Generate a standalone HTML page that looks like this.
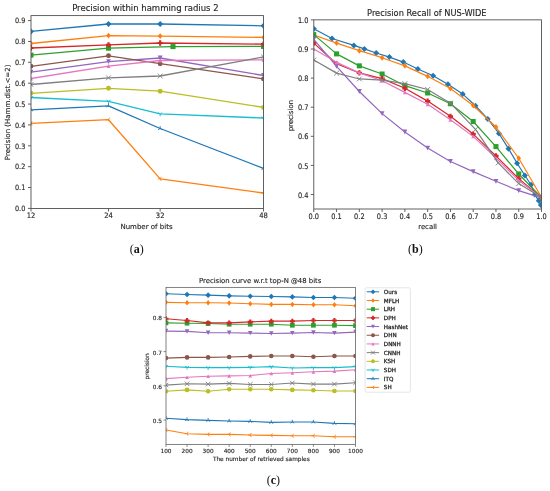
<!DOCTYPE html>
<html><head><meta charset="utf-8"><title>Precision figures</title>
<style>html,body{margin:0;padding:0;background:#fff;width:550px;height:491px;overflow:hidden}svg{display:block;filter:blur(0.3px)}</style>
</head><body>
<svg width="550" height="491" viewBox="0 0 550 491">
<defs><clipPath id="ca"><rect x="31" y="15.6" width="232.5" height="192.9"/></clipPath><clipPath id="cb"><rect x="313.8" y="19.85" width="227.7" height="189.15"/></clipPath><clipPath id="cc"><rect x="166" y="287.4" width="189.5" height="157.0"/></clipPath></defs>
<rect width="550" height="491" fill="#fff"/>
<g clip-path="url(#ca)">
<path d="M31 31.4L108.5 24L160.17 24L263.5 25.8" stroke="#1f77b4" stroke-width="1.3" fill="none" stroke-linejoin="round"/>
<polygon points="31,28.4 34,31.4 31,34.4 28,31.4" fill="#1f77b4"/>
<polygon points="108.5,21 111.5,24 108.5,27 105.5,24" fill="#1f77b4"/>
<polygon points="160.17,21 163.17,24 160.17,27 157.17,24" fill="#1f77b4"/>
<polygon points="263.5,22.8 266.5,25.8 263.5,28.8 260.5,25.8" fill="#1f77b4"/>
</g>
<g clip-path="url(#ca)">
<path d="M31 43.5L108.5 35.6L160.17 36.1L263.5 37.4" stroke="#ff7f0e" stroke-width="1.3" fill="none" stroke-linejoin="round"/>
<polygon points="31,40.56 33.28,43.5 31,46.44 28.72,43.5" fill="#ff7f0e"/>
<polygon points="108.5,32.66 110.78,35.6 108.5,38.54 106.22,35.6" fill="#ff7f0e"/>
<polygon points="160.17,33.16 162.45,36.1 160.17,39.04 157.89,36.1" fill="#ff7f0e"/>
<polygon points="263.5,34.46 265.78,37.4 263.5,40.34 261.22,37.4" fill="#ff7f0e"/>
</g>
<g clip-path="url(#ca)">
<path d="M31 55.1L108.5 48.2L173 46.6L263.5 46.4" stroke="#2ca02c" stroke-width="1.3" fill="none" stroke-linejoin="round"/>
<rect x="28.48" y="52.58" width="5.04" height="5.04" fill="#2ca02c"/>
<rect x="105.98" y="45.68" width="5.04" height="5.04" fill="#2ca02c"/>
<rect x="170.48" y="44.08" width="5.04" height="5.04" fill="#2ca02c"/>
<rect x="260.98" y="43.88" width="5.04" height="5.04" fill="#2ca02c"/>
</g>
<g clip-path="url(#ca)">
<path d="M31 48L108.5 44.8L160.17 43L263.5 44.1" stroke="#d62728" stroke-width="1.3" fill="none" stroke-linejoin="round"/>
<polygon points="29.89,45.36 32.11,45.36 32.11,46.89 33.64,46.89 33.64,49.11 32.11,49.11 32.11,50.64 29.89,50.64 29.89,49.11 28.36,49.11 28.36,46.89 29.89,46.89" fill="#d62728"/>
<polygon points="107.39,42.16 109.61,42.16 109.61,43.69 111.14,43.69 111.14,45.91 109.61,45.91 109.61,47.44 107.39,47.44 107.39,45.91 105.86,45.91 105.86,43.69 107.39,43.69" fill="#d62728"/>
<polygon points="159.06,40.36 161.28,40.36 161.28,41.89 162.81,41.89 162.81,44.11 161.28,44.11 161.28,45.64 159.06,45.64 159.06,44.11 157.53,44.11 157.53,41.89 159.06,41.89" fill="#d62728"/>
<polygon points="262.39,41.46 264.61,41.46 264.61,42.99 266.14,42.99 266.14,45.21 264.61,45.21 264.61,46.74 262.39,46.74 262.39,45.21 260.86,45.21 260.86,42.99 262.39,42.99" fill="#d62728"/>
</g>
<g clip-path="url(#ca)">
<path d="M31 72.2L108.5 61.6L160.17 58L263.5 75.5" stroke="#9467bd" stroke-width="1.3" fill="none" stroke-linejoin="round"/>
<polygon points="28.6,69.8 33.4,69.8 31,74.6" fill="#9467bd"/>
<polygon points="106.1,59.2 110.9,59.2 108.5,64" fill="#9467bd"/>
<polygon points="157.77,55.6 162.57,55.6 160.17,60.4" fill="#9467bd"/>
<polygon points="261.1,73.1 265.9,73.1 263.5,77.9" fill="#9467bd"/>
</g>
<g clip-path="url(#ca)">
<path d="M31 66.3L108.5 55.8L160.17 63.7L263.5 78.9" stroke="#8c564b" stroke-width="1.3" fill="none" stroke-linejoin="round"/>
<circle cx="31" cy="66.3" r="2.46" fill="#8c564b"/>
<circle cx="108.5" cy="55.8" r="2.46" fill="#8c564b"/>
<circle cx="160.17" cy="63.7" r="2.46" fill="#8c564b"/>
<circle cx="263.5" cy="78.9" r="2.46" fill="#8c564b"/>
</g>
<g clip-path="url(#ca)">
<path d="M31 78.5L108.5 66.1L160.17 60.5L263.5 59.8" stroke="#e377c2" stroke-width="1.3" fill="none" stroke-linejoin="round"/>
<polygon points="29.02,80.48 32.98,80.48 31,76.52" fill="#e377c2"/>
<polygon points="106.52,68.08 110.48,68.08 108.5,64.12" fill="#e377c2"/>
<polygon points="158.19,62.48 162.15,62.48 160.17,58.52" fill="#e377c2"/>
<polygon points="261.52,61.78 265.48,61.78 263.5,57.82" fill="#e377c2"/>
</g>
<g clip-path="url(#ca)">
<path d="M31 84.5L108.5 77.8L160.17 76L263.5 56.9" stroke="#7f7f7f" stroke-width="1.3" fill="none" stroke-linejoin="round"/>
<path d="M28.6 82.1L33.4 86.9M28.6 86.9L33.4 82.1" stroke="#7f7f7f" stroke-width="0.9" fill="none"/>
<path d="M106.1 75.4L110.9 80.2M106.1 80.2L110.9 75.4" stroke="#7f7f7f" stroke-width="0.9" fill="none"/>
<path d="M157.77 73.6L162.57 78.4M157.77 78.4L162.57 73.6" stroke="#7f7f7f" stroke-width="0.9" fill="none"/>
<path d="M261.1 54.5L265.9 59.3M261.1 59.3L265.9 54.5" stroke="#7f7f7f" stroke-width="0.9" fill="none"/>
</g>
<g clip-path="url(#ca)">
<path d="M31 93.3L108.5 88.3L160.17 91.2L263.5 107.4" stroke="#bcbd22" stroke-width="1.3" fill="none" stroke-linejoin="round"/>
<circle cx="31" cy="93.3" r="2.46" fill="#bcbd22"/>
<circle cx="108.5" cy="88.3" r="2.46" fill="#bcbd22"/>
<circle cx="160.17" cy="91.2" r="2.46" fill="#bcbd22"/>
<circle cx="263.5" cy="107.4" r="2.46" fill="#bcbd22"/>
</g>
<g clip-path="url(#ca)">
<path d="M31 97.5L108.5 101.3L160.17 113.9L263.5 118" stroke="#17becf" stroke-width="1.3" fill="none" stroke-linejoin="round"/>
<path d="M31 97.5L31 99.9M31 97.5L28.92 96.3M31 97.5L33.08 96.3" stroke="#17becf" stroke-width="0.9" fill="none"/>
<path d="M108.5 101.3L108.5 103.7M108.5 101.3L106.42 100.1M108.5 101.3L110.58 100.1" stroke="#17becf" stroke-width="0.9" fill="none"/>
<path d="M160.17 113.9L160.17 116.3M160.17 113.9L158.09 112.7M160.17 113.9L162.25 112.7" stroke="#17becf" stroke-width="0.9" fill="none"/>
<path d="M263.5 118L263.5 120.4M263.5 118L261.42 116.8M263.5 118L265.58 116.8" stroke="#17becf" stroke-width="0.9" fill="none"/>
</g>
<g clip-path="url(#ca)">
<path d="M31 109.8L108.5 105.8L160.17 128.5L263.5 168.4" stroke="#1f77b4" stroke-width="1.3" fill="none" stroke-linejoin="round"/>
<path d="M31 109.8L31 107.4M31 109.8L33.08 111M31 109.8L28.92 111" stroke="#1f77b4" stroke-width="0.9" fill="none"/>
<path d="M108.5 105.8L108.5 103.4M108.5 105.8L110.58 107M108.5 105.8L106.42 107" stroke="#1f77b4" stroke-width="0.9" fill="none"/>
<path d="M160.17 128.5L160.17 126.1M160.17 128.5L162.25 129.7M160.17 128.5L158.09 129.7" stroke="#1f77b4" stroke-width="0.9" fill="none"/>
<path d="M263.5 168.4L263.5 166M263.5 168.4L265.58 169.6M263.5 168.4L261.42 169.6" stroke="#1f77b4" stroke-width="0.9" fill="none"/>
</g>
<g clip-path="url(#ca)">
<path d="M31 123.3L108.5 119.7L160.17 178.9L263.5 193" stroke="#ff7f0e" stroke-width="1.3" fill="none" stroke-linejoin="round"/>
<path d="M31 123.3L28.6 123.3M31 123.3L32.2 121.22M31 123.3L32.2 125.38" stroke="#ff7f0e" stroke-width="0.9" fill="none"/>
<path d="M108.5 119.7L106.1 119.7M108.5 119.7L109.7 117.62M108.5 119.7L109.7 121.78" stroke="#ff7f0e" stroke-width="0.9" fill="none"/>
<path d="M160.17 178.9L157.77 178.9M160.17 178.9L161.37 176.82M160.17 178.9L161.37 180.98" stroke="#ff7f0e" stroke-width="0.9" fill="none"/>
<path d="M263.5 193L261.1 193M263.5 193L264.7 190.92M263.5 193L264.7 195.08" stroke="#ff7f0e" stroke-width="0.9" fill="none"/>
</g>
<rect x="31" y="15.6" width="232.5" height="192.9" fill="none" stroke="#505050" stroke-width="0.9"/>
<line x1="28" y1="208.4" x2="31" y2="208.4" stroke="#505050" stroke-width="0.9"/>
<text x="0" y="0" font-size="7.4" text-anchor="end" font-family="'DejaVu Sans', 'Liberation Sans', sans-serif" fill="#262626" stroke="#262626" stroke-width="0.14" transform="translate(25.3 211.15) scale(0.88 1)">0.0</text>
<line x1="28" y1="187.53" x2="31" y2="187.53" stroke="#505050" stroke-width="0.9"/>
<text x="0" y="0" font-size="7.4" text-anchor="end" font-family="'DejaVu Sans', 'Liberation Sans', sans-serif" fill="#262626" stroke="#262626" stroke-width="0.14" transform="translate(25.3 190.28) scale(0.88 1)">0.1</text>
<line x1="28" y1="166.66" x2="31" y2="166.66" stroke="#505050" stroke-width="0.9"/>
<text x="0" y="0" font-size="7.4" text-anchor="end" font-family="'DejaVu Sans', 'Liberation Sans', sans-serif" fill="#262626" stroke="#262626" stroke-width="0.14" transform="translate(25.3 169.41) scale(0.88 1)">0.2</text>
<line x1="28" y1="145.79" x2="31" y2="145.79" stroke="#505050" stroke-width="0.9"/>
<text x="0" y="0" font-size="7.4" text-anchor="end" font-family="'DejaVu Sans', 'Liberation Sans', sans-serif" fill="#262626" stroke="#262626" stroke-width="0.14" transform="translate(25.3 148.54) scale(0.88 1)">0.3</text>
<line x1="28" y1="124.92" x2="31" y2="124.92" stroke="#505050" stroke-width="0.9"/>
<text x="0" y="0" font-size="7.4" text-anchor="end" font-family="'DejaVu Sans', 'Liberation Sans', sans-serif" fill="#262626" stroke="#262626" stroke-width="0.14" transform="translate(25.3 127.67) scale(0.88 1)">0.4</text>
<line x1="28" y1="104.05" x2="31" y2="104.05" stroke="#505050" stroke-width="0.9"/>
<text x="0" y="0" font-size="7.4" text-anchor="end" font-family="'DejaVu Sans', 'Liberation Sans', sans-serif" fill="#262626" stroke="#262626" stroke-width="0.14" transform="translate(25.3 106.8) scale(0.88 1)">0.5</text>
<line x1="28" y1="83.18" x2="31" y2="83.18" stroke="#505050" stroke-width="0.9"/>
<text x="0" y="0" font-size="7.4" text-anchor="end" font-family="'DejaVu Sans', 'Liberation Sans', sans-serif" fill="#262626" stroke="#262626" stroke-width="0.14" transform="translate(25.3 85.93) scale(0.88 1)">0.6</text>
<line x1="28" y1="62.31" x2="31" y2="62.31" stroke="#505050" stroke-width="0.9"/>
<text x="0" y="0" font-size="7.4" text-anchor="end" font-family="'DejaVu Sans', 'Liberation Sans', sans-serif" fill="#262626" stroke="#262626" stroke-width="0.14" transform="translate(25.3 65.06) scale(0.88 1)">0.7</text>
<line x1="28" y1="41.44" x2="31" y2="41.44" stroke="#505050" stroke-width="0.9"/>
<text x="0" y="0" font-size="7.4" text-anchor="end" font-family="'DejaVu Sans', 'Liberation Sans', sans-serif" fill="#262626" stroke="#262626" stroke-width="0.14" transform="translate(25.3 44.19) scale(0.88 1)">0.8</text>
<line x1="28" y1="20.57" x2="31" y2="20.57" stroke="#505050" stroke-width="0.9"/>
<text x="0" y="0" font-size="7.4" text-anchor="end" font-family="'DejaVu Sans', 'Liberation Sans', sans-serif" fill="#262626" stroke="#262626" stroke-width="0.14" transform="translate(25.3 23.32) scale(0.88 1)">0.9</text>
<line x1="31" y1="208.5" x2="31" y2="211.5" stroke="#505050" stroke-width="0.9"/>
<text x="0" y="0" font-size="7.4" text-anchor="middle" font-family="'DejaVu Sans', 'Liberation Sans', sans-serif" fill="#262626" stroke="#262626" stroke-width="0.14" transform="translate(31 218.1) scale(0.92 1)">12</text>
<line x1="108.5" y1="208.5" x2="108.5" y2="211.5" stroke="#505050" stroke-width="0.9"/>
<text x="0" y="0" font-size="7.4" text-anchor="middle" font-family="'DejaVu Sans', 'Liberation Sans', sans-serif" fill="#262626" stroke="#262626" stroke-width="0.14" transform="translate(108.5 218.1) scale(0.92 1)">24</text>
<line x1="160.17" y1="208.5" x2="160.17" y2="211.5" stroke="#505050" stroke-width="0.9"/>
<text x="0" y="0" font-size="7.4" text-anchor="middle" font-family="'DejaVu Sans', 'Liberation Sans', sans-serif" fill="#262626" stroke="#262626" stroke-width="0.14" transform="translate(160.17 218.1) scale(0.92 1)">32</text>
<line x1="263.5" y1="208.5" x2="263.5" y2="211.5" stroke="#505050" stroke-width="0.9"/>
<text x="0" y="0" font-size="7.4" text-anchor="middle" font-family="'DejaVu Sans', 'Liberation Sans', sans-serif" fill="#262626" stroke="#262626" stroke-width="0.14" transform="translate(263.5 218.1) scale(0.92 1)">48</text>
<text x="146.5" y="228.8" font-size="7" text-anchor="middle" font-family="'DejaVu Sans', 'Liberation Sans', sans-serif" fill="#262626" stroke="#262626" stroke-width="0.14">Number of bits</text>
<text x="10" y="112.4" font-size="7" text-anchor="middle" font-family="'DejaVu Sans', 'Liberation Sans', sans-serif" fill="#262626" stroke="#262626" stroke-width="0.14" transform="rotate(-90 10 112.4)">Precision (Hamm.dist.&lt;=2)</text>
<text x="145.4" y="10.9" font-size="8.5" text-anchor="middle" font-family="'DejaVu Sans', 'Liberation Sans', sans-serif" fill="#262626" stroke="#262626" stroke-width="0.14">Precision within hamming radius 2</text>
<g clip-path="url(#cb)">
<path d="M313.8 28.83L332.02 38.45L353.88 45.44L364.35 48.94L376.19 53.02L389.4 57.1L403.29 62.06L417.86 69.06L433.11 75.76L447.92 84.21L462.72 94.12L475.47 105.78L487.76 118.9L498.92 133.48L508.48 148.63L517.14 163.21L524.88 175.45L531.03 184.78L534.67 194.4L538.77 200.81L540.82 204.89" stroke="#1f77b4" stroke-width="1.2" fill="none" stroke-linejoin="round"/>
<polygon points="313.8,25.83 316.8,28.83 313.8,31.83 310.8,28.83" fill="#1f77b4"/>
<polygon points="332.02,35.45 335.02,38.45 332.02,41.45 329.02,38.45" fill="#1f77b4"/>
<polygon points="353.88,42.44 356.88,45.44 353.88,48.44 350.88,45.44" fill="#1f77b4"/>
<polygon points="364.35,45.94 367.35,48.94 364.35,51.94 361.35,48.94" fill="#1f77b4"/>
<polygon points="376.19,50.02 379.19,53.02 376.19,56.02 373.19,53.02" fill="#1f77b4"/>
<polygon points="389.4,54.1 392.4,57.1 389.4,60.1 386.4,57.1" fill="#1f77b4"/>
<polygon points="403.29,59.06 406.29,62.06 403.29,65.06 400.29,62.06" fill="#1f77b4"/>
<polygon points="417.86,66.06 420.86,69.06 417.86,72.06 414.86,69.06" fill="#1f77b4"/>
<polygon points="433.11,72.76 436.11,75.76 433.11,78.76 430.11,75.76" fill="#1f77b4"/>
<polygon points="447.92,81.21 450.92,84.21 447.92,87.21 444.92,84.21" fill="#1f77b4"/>
<polygon points="462.72,91.12 465.72,94.12 462.72,97.12 459.72,94.12" fill="#1f77b4"/>
<polygon points="475.47,102.78 478.47,105.78 475.47,108.78 472.47,105.78" fill="#1f77b4"/>
<polygon points="487.76,115.9 490.76,118.9 487.76,121.9 484.76,118.9" fill="#1f77b4"/>
<polygon points="498.92,130.48 501.92,133.48 498.92,136.48 495.92,133.48" fill="#1f77b4"/>
<polygon points="508.48,145.63 511.48,148.63 508.48,151.63 505.48,148.63" fill="#1f77b4"/>
<polygon points="517.14,160.21 520.14,163.21 517.14,166.21 514.14,163.21" fill="#1f77b4"/>
<polygon points="524.88,172.45 527.88,175.45 524.88,178.45 521.88,175.45" fill="#1f77b4"/>
<polygon points="531.03,181.78 534.03,184.78 531.03,187.78 528.03,184.78" fill="#1f77b4"/>
<polygon points="534.67,191.4 537.67,194.4 534.67,197.4 531.67,194.4" fill="#1f77b4"/>
<polygon points="538.77,197.81 541.77,200.81 538.77,203.81 535.77,200.81" fill="#1f77b4"/>
<polygon points="540.82,201.89 543.82,204.89 540.82,207.89 537.82,204.89" fill="#1f77b4"/>
</g>
<g clip-path="url(#cb)">
<path d="M313.8 34.95L336.57 43.11L359.34 50.69L382.11 57.69L404.88 65.85L427.65 76.34L450.42 88.59L473.19 105.49L495.96 127.06L518.73 158.25L541.5 197.31" stroke="#ff7f0e" stroke-width="1.2" fill="none" stroke-linejoin="round"/>
<polygon points="313.8,32.01 316.08,34.95 313.8,37.89 311.52,34.95" fill="#ff7f0e"/>
<polygon points="336.57,40.17 338.85,43.11 336.57,46.05 334.29,43.11" fill="#ff7f0e"/>
<polygon points="359.34,47.75 361.62,50.69 359.34,53.63 357.06,50.69" fill="#ff7f0e"/>
<polygon points="382.11,54.75 384.39,57.69 382.11,60.63 379.83,57.69" fill="#ff7f0e"/>
<polygon points="404.88,62.91 407.16,65.85 404.88,68.79 402.6,65.85" fill="#ff7f0e"/>
<polygon points="427.65,73.4 429.93,76.34 427.65,79.28 425.37,76.34" fill="#ff7f0e"/>
<polygon points="450.42,85.65 452.7,88.59 450.42,91.53 448.14,88.59" fill="#ff7f0e"/>
<polygon points="473.19,102.55 475.47,105.49 473.19,108.43 470.91,105.49" fill="#ff7f0e"/>
<polygon points="495.96,124.12 498.24,127.06 495.96,130 493.68,127.06" fill="#ff7f0e"/>
<polygon points="518.73,155.31 521.01,158.25 518.73,161.19 516.45,158.25" fill="#ff7f0e"/>
<polygon points="541.5,194.38 543.78,197.31 541.5,200.25 539.22,197.31" fill="#ff7f0e"/>
</g>
<g clip-path="url(#cb)">
<path d="M313.8 34.66L336.57 53.9L359.34 65.85L382.11 74.01L404.88 85.67L427.65 92.96L450.42 103.74L473.19 121.52L495.96 146.59L518.73 174L541.5 197.31" stroke="#2ca02c" stroke-width="1.2" fill="none" stroke-linejoin="round"/>
<rect x="311.28" y="32.14" width="5.04" height="5.04" fill="#2ca02c"/>
<rect x="334.05" y="51.38" width="5.04" height="5.04" fill="#2ca02c"/>
<rect x="356.82" y="63.33" width="5.04" height="5.04" fill="#2ca02c"/>
<rect x="379.59" y="71.49" width="5.04" height="5.04" fill="#2ca02c"/>
<rect x="402.36" y="83.15" width="5.04" height="5.04" fill="#2ca02c"/>
<rect x="425.13" y="90.44" width="5.04" height="5.04" fill="#2ca02c"/>
<rect x="447.9" y="101.22" width="5.04" height="5.04" fill="#2ca02c"/>
<rect x="470.67" y="119" width="5.04" height="5.04" fill="#2ca02c"/>
<rect x="493.44" y="144.07" width="5.04" height="5.04" fill="#2ca02c"/>
<rect x="516.21" y="171.47" width="5.04" height="5.04" fill="#2ca02c"/>
<rect x="538.98" y="194.79" width="5.04" height="5.04" fill="#2ca02c"/>
</g>
<g clip-path="url(#cb)">
<path d="M313.8 43.11L336.57 63.81L359.34 72.84L382.11 78.67L404.88 88.29L427.65 101.12L450.42 116.28L473.19 134.06L495.96 155.92L518.73 178.66L541.5 197.61" stroke="#d62728" stroke-width="1.2" fill="none" stroke-linejoin="round"/>
<polygon points="312.69,40.47 314.91,40.47 314.91,42 316.44,42 316.44,44.22 314.91,44.22 314.91,45.75 312.69,45.75 312.69,44.22 311.16,44.22 311.16,42 312.69,42" fill="#d62728"/>
<polygon points="335.46,61.17 337.68,61.17 337.68,62.7 339.21,62.7 339.21,64.92 337.68,64.92 337.68,66.45 335.46,66.45 335.46,64.92 333.93,64.92 333.93,62.7 335.46,62.7" fill="#d62728"/>
<polygon points="358.23,70.2 360.45,70.2 360.45,71.74 361.98,71.74 361.98,73.95 360.45,73.95 360.45,75.48 358.23,75.48 358.23,73.95 356.7,73.95 356.7,71.74 358.23,71.74" fill="#d62728"/>
<polygon points="381,76.03 383.22,76.03 383.22,77.57 384.75,77.57 384.75,79.78 383.22,79.78 383.22,81.31 381,81.31 381,79.78 379.47,79.78 379.47,77.57 381,77.57" fill="#d62728"/>
<polygon points="403.77,85.65 405.99,85.65 405.99,87.19 407.52,87.19 407.52,89.4 405.99,89.4 405.99,90.93 403.77,90.93 403.77,89.4 402.24,89.4 402.24,87.19 403.77,87.19" fill="#d62728"/>
<polygon points="426.54,98.48 428.76,98.48 428.76,100.01 430.29,100.01 430.29,102.23 428.76,102.23 428.76,103.76 426.54,103.76 426.54,102.23 425.01,102.23 425.01,100.01 426.54,100.01" fill="#d62728"/>
<polygon points="449.31,113.64 451.53,113.64 451.53,115.17 453.06,115.17 453.06,117.39 451.53,117.39 451.53,118.92 449.31,118.92 449.31,117.39 447.78,117.39 447.78,115.17 449.31,115.17" fill="#d62728"/>
<polygon points="472.08,131.42 474.3,131.42 474.3,132.95 475.83,132.95 475.83,135.17 474.3,135.17 474.3,136.7 472.08,136.7 472.08,135.17 470.55,135.17 470.55,132.95 472.08,132.95" fill="#d62728"/>
<polygon points="494.85,153.28 497.07,153.28 497.07,154.81 498.6,154.81 498.6,157.03 497.07,157.03 497.07,158.56 494.85,158.56 494.85,157.03 493.32,157.03 493.32,154.81 494.85,154.81" fill="#d62728"/>
<polygon points="517.62,176.02 519.84,176.02 519.84,177.55 521.37,177.55 521.37,179.77 519.84,179.77 519.84,181.3 517.62,181.3 517.62,179.77 516.09,179.77 516.09,177.55 517.62,177.55" fill="#d62728"/>
<polygon points="540.39,194.97 542.61,194.97 542.61,196.5 544.14,196.5 544.14,198.72 542.61,198.72 542.61,200.25 540.39,200.25 540.39,198.72 538.86,198.72 538.86,196.5 540.39,196.5" fill="#d62728"/>
</g>
<g clip-path="url(#cb)">
<path d="M313.8 39.32L336.57 66.43L359.34 91.5L382.11 113.65L404.88 132.02L427.65 148.05L450.42 161.46L473.19 171.66L495.96 181.28L518.73 190.61L541.5 197.9" stroke="#9467bd" stroke-width="1.2" fill="none" stroke-linejoin="round"/>
<polygon points="311.4,36.92 316.2,36.92 313.8,41.72" fill="#9467bd"/>
<polygon points="334.17,64.03 338.97,64.03 336.57,68.83" fill="#9467bd"/>
<polygon points="356.94,89.1 361.74,89.1 359.34,93.9" fill="#9467bd"/>
<polygon points="379.71,111.25 384.51,111.25 382.11,116.05" fill="#9467bd"/>
<polygon points="402.48,129.62 407.28,129.62 404.88,134.42" fill="#9467bd"/>
<polygon points="425.25,145.65 430.05,145.65 427.65,150.45" fill="#9467bd"/>
<polygon points="448.02,159.06 452.82,159.06 450.42,163.86" fill="#9467bd"/>
<polygon points="470.79,169.26 475.59,169.26 473.19,174.06" fill="#9467bd"/>
<polygon points="493.56,178.88 498.36,178.88 495.96,183.68" fill="#9467bd"/>
<polygon points="516.33,188.21 521.13,188.21 518.73,193.01" fill="#9467bd"/>
<polygon points="539.1,195.5 543.9,195.5 541.5,200.3" fill="#9467bd"/>
</g>
<g clip-path="url(#cb)">
<path d="M313.8 48.94L336.57 62.35L359.34 72.84L382.11 80.71L404.88 92.38L427.65 104.33L450.42 119.78L473.19 136.39L495.96 157.96L518.73 180.41L541.5 197.61" stroke="#e377c2" stroke-width="1.2" fill="none" stroke-linejoin="round"/>
<polygon points="311.82,50.92 315.78,50.92 313.8,46.96" fill="#e377c2"/>
<polygon points="334.59,64.33 338.55,64.33 336.57,60.37" fill="#e377c2"/>
<polygon points="357.36,74.82 361.32,74.82 359.34,70.86" fill="#e377c2"/>
<polygon points="380.13,82.69 384.09,82.69 382.11,78.73" fill="#e377c2"/>
<polygon points="402.9,94.36 406.86,94.36 404.88,90.39" fill="#e377c2"/>
<polygon points="425.67,106.31 429.63,106.31 427.65,102.35" fill="#e377c2"/>
<polygon points="448.44,121.76 452.4,121.76 450.42,117.8" fill="#e377c2"/>
<polygon points="471.21,138.37 475.17,138.37 473.19,134.41" fill="#e377c2"/>
<polygon points="493.98,159.94 497.94,159.94 495.96,155.98" fill="#e377c2"/>
<polygon points="516.75,182.39 520.71,182.39 518.73,178.43" fill="#e377c2"/>
<polygon points="539.52,199.59 543.48,199.59 541.5,195.63" fill="#e377c2"/>
</g>
<g clip-path="url(#cb)">
<path d="M313.8 60.02L336.57 73.14L359.34 78.97L382.11 80.13L404.88 83.63L427.65 89.46L450.42 103.16L475.47 129.4L498.24 162.92L518.73 183.61L541.5 197.61" stroke="#7f7f7f" stroke-width="1.2" fill="none" stroke-linejoin="round"/>
<path d="M311.4 57.62L316.2 62.42M311.4 62.42L316.2 57.62" stroke="#7f7f7f" stroke-width="0.9" fill="none"/>
<path d="M334.17 70.74L338.97 75.54M334.17 75.54L338.97 70.74" stroke="#7f7f7f" stroke-width="0.9" fill="none"/>
<path d="M356.94 76.57L361.74 81.37M356.94 81.37L361.74 76.57" stroke="#7f7f7f" stroke-width="0.9" fill="none"/>
<path d="M379.71 77.73L384.51 82.53M379.71 82.53L384.51 77.73" stroke="#7f7f7f" stroke-width="0.9" fill="none"/>
<path d="M402.48 81.23L407.28 86.03M402.48 86.03L407.28 81.23" stroke="#7f7f7f" stroke-width="0.9" fill="none"/>
<path d="M425.25 87.06L430.05 91.86M425.25 91.86L430.05 87.06" stroke="#7f7f7f" stroke-width="0.9" fill="none"/>
<path d="M448.02 100.76L452.82 105.56M448.02 105.56L452.82 100.76" stroke="#7f7f7f" stroke-width="0.9" fill="none"/>
<path d="M473.07 127L477.87 131.8M473.07 131.8L477.87 127" stroke="#7f7f7f" stroke-width="0.9" fill="none"/>
<path d="M495.84 160.52L500.64 165.32M495.84 165.32L500.64 160.52" stroke="#7f7f7f" stroke-width="0.9" fill="none"/>
<path d="M516.33 181.21L521.13 186.01M516.33 186.01L521.13 181.21" stroke="#7f7f7f" stroke-width="0.9" fill="none"/>
<path d="M539.1 195.21L543.9 200.01M539.1 200.01L543.9 195.21" stroke="#7f7f7f" stroke-width="0.9" fill="none"/>
</g>
<rect x="313.8" y="19.85" width="227.7" height="189.15" fill="none" stroke="#505050" stroke-width="0.9"/>
<line x1="310.8" y1="194.5" x2="313.8" y2="194.5" stroke="#505050" stroke-width="0.9"/>
<text x="0" y="0" font-size="7.7" text-anchor="end" font-family="'DejaVu Sans', 'Liberation Sans', sans-serif" fill="#262626" stroke="#262626" stroke-width="0.14" transform="translate(308.4 197.6) scale(0.86 1)">0.4</text>
<line x1="310.8" y1="165.4" x2="313.8" y2="165.4" stroke="#505050" stroke-width="0.9"/>
<text x="0" y="0" font-size="7.7" text-anchor="end" font-family="'DejaVu Sans', 'Liberation Sans', sans-serif" fill="#262626" stroke="#262626" stroke-width="0.14" transform="translate(308.4 168.5) scale(0.86 1)">0.5</text>
<line x1="310.8" y1="136.3" x2="313.8" y2="136.3" stroke="#505050" stroke-width="0.9"/>
<text x="0" y="0" font-size="7.7" text-anchor="end" font-family="'DejaVu Sans', 'Liberation Sans', sans-serif" fill="#262626" stroke="#262626" stroke-width="0.14" transform="translate(308.4 139.4) scale(0.86 1)">0.6</text>
<line x1="310.8" y1="107.2" x2="313.8" y2="107.2" stroke="#505050" stroke-width="0.9"/>
<text x="0" y="0" font-size="7.7" text-anchor="end" font-family="'DejaVu Sans', 'Liberation Sans', sans-serif" fill="#262626" stroke="#262626" stroke-width="0.14" transform="translate(308.4 110.3) scale(0.86 1)">0.7</text>
<line x1="310.8" y1="78.1" x2="313.8" y2="78.1" stroke="#505050" stroke-width="0.9"/>
<text x="0" y="0" font-size="7.7" text-anchor="end" font-family="'DejaVu Sans', 'Liberation Sans', sans-serif" fill="#262626" stroke="#262626" stroke-width="0.14" transform="translate(308.4 81.2) scale(0.86 1)">0.8</text>
<line x1="310.8" y1="49" x2="313.8" y2="49" stroke="#505050" stroke-width="0.9"/>
<text x="0" y="0" font-size="7.7" text-anchor="end" font-family="'DejaVu Sans', 'Liberation Sans', sans-serif" fill="#262626" stroke="#262626" stroke-width="0.14" transform="translate(308.4 52.1) scale(0.86 1)">0.9</text>
<line x1="310.8" y1="19.9" x2="313.8" y2="19.9" stroke="#505050" stroke-width="0.9"/>
<text x="0" y="0" font-size="7.7" text-anchor="end" font-family="'DejaVu Sans', 'Liberation Sans', sans-serif" fill="#262626" stroke="#262626" stroke-width="0.14" transform="translate(308.4 23) scale(0.86 1)">1.0</text>
<line x1="313.8" y1="209" x2="313.8" y2="212" stroke="#505050" stroke-width="0.9"/>
<text x="0" y="0" font-size="7.7" text-anchor="middle" font-family="'DejaVu Sans', 'Liberation Sans', sans-serif" fill="#262626" stroke="#262626" stroke-width="0.14" transform="translate(313.8 219.4) scale(0.86 1)">0.0</text>
<line x1="336.57" y1="209" x2="336.57" y2="212" stroke="#505050" stroke-width="0.9"/>
<text x="0" y="0" font-size="7.7" text-anchor="middle" font-family="'DejaVu Sans', 'Liberation Sans', sans-serif" fill="#262626" stroke="#262626" stroke-width="0.14" transform="translate(336.57 219.4) scale(0.86 1)">0.1</text>
<line x1="359.34" y1="209" x2="359.34" y2="212" stroke="#505050" stroke-width="0.9"/>
<text x="0" y="0" font-size="7.7" text-anchor="middle" font-family="'DejaVu Sans', 'Liberation Sans', sans-serif" fill="#262626" stroke="#262626" stroke-width="0.14" transform="translate(359.34 219.4) scale(0.86 1)">0.2</text>
<line x1="382.11" y1="209" x2="382.11" y2="212" stroke="#505050" stroke-width="0.9"/>
<text x="0" y="0" font-size="7.7" text-anchor="middle" font-family="'DejaVu Sans', 'Liberation Sans', sans-serif" fill="#262626" stroke="#262626" stroke-width="0.14" transform="translate(382.11 219.4) scale(0.86 1)">0.3</text>
<line x1="404.88" y1="209" x2="404.88" y2="212" stroke="#505050" stroke-width="0.9"/>
<text x="0" y="0" font-size="7.7" text-anchor="middle" font-family="'DejaVu Sans', 'Liberation Sans', sans-serif" fill="#262626" stroke="#262626" stroke-width="0.14" transform="translate(404.88 219.4) scale(0.86 1)">0.4</text>
<line x1="427.65" y1="209" x2="427.65" y2="212" stroke="#505050" stroke-width="0.9"/>
<text x="0" y="0" font-size="7.7" text-anchor="middle" font-family="'DejaVu Sans', 'Liberation Sans', sans-serif" fill="#262626" stroke="#262626" stroke-width="0.14" transform="translate(427.65 219.4) scale(0.86 1)">0.5</text>
<line x1="450.42" y1="209" x2="450.42" y2="212" stroke="#505050" stroke-width="0.9"/>
<text x="0" y="0" font-size="7.7" text-anchor="middle" font-family="'DejaVu Sans', 'Liberation Sans', sans-serif" fill="#262626" stroke="#262626" stroke-width="0.14" transform="translate(450.42 219.4) scale(0.86 1)">0.6</text>
<line x1="473.19" y1="209" x2="473.19" y2="212" stroke="#505050" stroke-width="0.9"/>
<text x="0" y="0" font-size="7.7" text-anchor="middle" font-family="'DejaVu Sans', 'Liberation Sans', sans-serif" fill="#262626" stroke="#262626" stroke-width="0.14" transform="translate(473.19 219.4) scale(0.86 1)">0.7</text>
<line x1="495.96" y1="209" x2="495.96" y2="212" stroke="#505050" stroke-width="0.9"/>
<text x="0" y="0" font-size="7.7" text-anchor="middle" font-family="'DejaVu Sans', 'Liberation Sans', sans-serif" fill="#262626" stroke="#262626" stroke-width="0.14" transform="translate(495.96 219.4) scale(0.86 1)">0.8</text>
<line x1="518.73" y1="209" x2="518.73" y2="212" stroke="#505050" stroke-width="0.9"/>
<text x="0" y="0" font-size="7.7" text-anchor="middle" font-family="'DejaVu Sans', 'Liberation Sans', sans-serif" fill="#262626" stroke="#262626" stroke-width="0.14" transform="translate(518.73 219.4) scale(0.86 1)">0.9</text>
<line x1="541.5" y1="209" x2="541.5" y2="212" stroke="#505050" stroke-width="0.9"/>
<text x="0" y="0" font-size="7.7" text-anchor="middle" font-family="'DejaVu Sans', 'Liberation Sans', sans-serif" fill="#262626" stroke="#262626" stroke-width="0.14" transform="translate(541.5 219.4) scale(0.86 1)">1.0</text>
<text x="427.6" y="229" font-size="6.9" text-anchor="middle" font-family="'DejaVu Sans', 'Liberation Sans', sans-serif" fill="#262626" stroke="#262626" stroke-width="0.14">recall</text>
<text x="292.7" y="115.5" font-size="6.9" text-anchor="middle" font-family="'DejaVu Sans', 'Liberation Sans', sans-serif" fill="#262626" stroke="#262626" stroke-width="0.14" transform="rotate(-90 292.7 115.5)">precision</text>
<text x="426.8" y="15.9" font-size="8.25" text-anchor="middle" font-family="'DejaVu Sans', 'Liberation Sans', sans-serif" fill="#262626" stroke="#262626" stroke-width="0.14">Precision Recall of NUS-WIDE</text>
<g clip-path="url(#cc)">
<path d="M166 293.8L187.06 294.49L208.11 295.17L229.17 295.85L250.22 296.2L271.28 296.54L292.33 296.88L313.39 297.56L334.44 297.56L355.5 298.25" stroke="#1f77b4" stroke-width="1.1" fill="none" stroke-linejoin="round"/>
<polygon points="166,291 168.8,293.8 166,296.6 163.2,293.8" fill="#1f77b4"/>
<polygon points="187.06,291.69 189.86,294.49 187.06,297.29 184.26,294.49" fill="#1f77b4"/>
<polygon points="208.11,292.37 210.91,295.17 208.11,297.97 205.31,295.17" fill="#1f77b4"/>
<polygon points="229.17,293.05 231.97,295.85 229.17,298.65 226.37,295.85" fill="#1f77b4"/>
<polygon points="250.22,293.4 253.02,296.2 250.22,299 247.42,296.2" fill="#1f77b4"/>
<polygon points="271.28,293.74 274.08,296.54 271.28,299.34 268.48,296.54" fill="#1f77b4"/>
<polygon points="292.33,294.08 295.13,296.88 292.33,299.68 289.53,296.88" fill="#1f77b4"/>
<polygon points="313.39,294.76 316.19,297.56 313.39,300.36 310.59,297.56" fill="#1f77b4"/>
<polygon points="334.44,294.76 337.24,297.56 334.44,300.36 331.64,297.56" fill="#1f77b4"/>
<polygon points="355.5,295.45 358.3,298.25 355.5,301.05 352.7,298.25" fill="#1f77b4"/>
</g>
<g clip-path="url(#cc)">
<path d="M166 302.35L187.06 302.69L208.11 302.69L229.17 303.04L250.22 303.72L271.28 304.4L292.33 304.4L313.39 304.75L334.44 304.75L355.5 305.77" stroke="#ff7f0e" stroke-width="1.1" fill="none" stroke-linejoin="round"/>
<polygon points="166,299.61 168.13,302.35 166,305.1 163.87,302.35" fill="#ff7f0e"/>
<polygon points="187.06,299.95 189.18,302.69 187.06,305.44 184.93,302.69" fill="#ff7f0e"/>
<polygon points="208.11,299.95 210.24,302.69 208.11,305.44 205.98,302.69" fill="#ff7f0e"/>
<polygon points="229.17,300.29 231.29,303.04 229.17,305.78 227.04,303.04" fill="#ff7f0e"/>
<polygon points="250.22,300.98 252.35,303.72 250.22,306.46 248.09,303.72" fill="#ff7f0e"/>
<polygon points="271.28,301.66 273.41,304.4 271.28,307.15 269.15,304.4" fill="#ff7f0e"/>
<polygon points="292.33,301.66 294.46,304.4 292.33,307.15 290.21,304.4" fill="#ff7f0e"/>
<polygon points="313.39,302 315.52,304.75 313.39,307.49 311.26,304.75" fill="#ff7f0e"/>
<polygon points="334.44,302 336.57,304.75 334.44,307.49 332.32,304.75" fill="#ff7f0e"/>
<polygon points="355.5,303.03 357.63,305.77 355.5,308.52 353.37,305.77" fill="#ff7f0e"/>
</g>
<g clip-path="url(#cc)">
<path d="M166 322.87L187.06 323.21L208.11 323.56L229.17 324.24L250.22 324.24L271.28 324.24L292.33 325.27L313.39 325.27L334.44 325.27L355.5 325.61" stroke="#2ca02c" stroke-width="1.1" fill="none" stroke-linejoin="round"/>
<rect x="163.65" y="320.52" width="4.7" height="4.7" fill="#2ca02c"/>
<rect x="184.7" y="320.86" width="4.7" height="4.7" fill="#2ca02c"/>
<rect x="205.76" y="321.2" width="4.7" height="4.7" fill="#2ca02c"/>
<rect x="226.81" y="321.89" width="4.7" height="4.7" fill="#2ca02c"/>
<rect x="247.87" y="321.89" width="4.7" height="4.7" fill="#2ca02c"/>
<rect x="268.93" y="321.89" width="4.7" height="4.7" fill="#2ca02c"/>
<rect x="289.98" y="322.91" width="4.7" height="4.7" fill="#2ca02c"/>
<rect x="311.04" y="322.91" width="4.7" height="4.7" fill="#2ca02c"/>
<rect x="332.09" y="322.91" width="4.7" height="4.7" fill="#2ca02c"/>
<rect x="353.15" y="323.26" width="4.7" height="4.7" fill="#2ca02c"/>
</g>
<g clip-path="url(#cc)">
<path d="M166 318.77L187.06 320.48L208.11 322.87L229.17 322.87L250.22 321.85L271.28 321.16L292.33 321.16L313.39 320.48L334.44 320.48L355.5 320.48" stroke="#d62728" stroke-width="1.1" fill="none" stroke-linejoin="round"/>
<polygon points="164.97,316.3 167.03,316.3 167.03,317.73 168.46,317.73 168.46,319.8 167.03,319.8 167.03,321.23 164.97,321.23 164.97,319.8 163.54,319.8 163.54,317.73 164.97,317.73" fill="#d62728"/>
<polygon points="186.02,318.01 188.09,318.01 188.09,319.44 189.52,319.44 189.52,321.51 188.09,321.51 188.09,322.94 186.02,322.94 186.02,321.51 184.59,321.51 184.59,319.44 186.02,319.44" fill="#d62728"/>
<polygon points="207.08,320.41 209.15,320.41 209.15,321.84 210.58,321.84 210.58,323.91 209.15,323.91 209.15,325.34 207.08,325.34 207.08,323.91 205.65,323.91 205.65,321.84 207.08,321.84" fill="#d62728"/>
<polygon points="228.13,320.41 230.2,320.41 230.2,321.84 231.63,321.84 231.63,323.91 230.2,323.91 230.2,325.34 228.13,325.34 228.13,323.91 226.7,323.91 226.7,321.84 228.13,321.84" fill="#d62728"/>
<polygon points="249.19,319.38 251.26,319.38 251.26,320.81 252.69,320.81 252.69,322.88 251.26,322.88 251.26,324.31 249.19,324.31 249.19,322.88 247.76,322.88 247.76,320.81 249.19,320.81" fill="#d62728"/>
<polygon points="270.24,318.7 272.31,318.7 272.31,320.13 273.74,320.13 273.74,322.2 272.31,322.2 272.31,323.63 270.24,323.63 270.24,322.2 268.81,322.2 268.81,320.13 270.24,320.13" fill="#d62728"/>
<polygon points="291.3,318.7 293.37,318.7 293.37,320.13 294.8,320.13 294.8,322.2 293.37,322.2 293.37,323.63 291.3,323.63 291.3,322.2 289.87,322.2 289.87,320.13 291.3,320.13" fill="#d62728"/>
<polygon points="312.35,318.01 314.42,318.01 314.42,319.44 315.85,319.44 315.85,321.51 314.42,321.51 314.42,322.94 312.35,322.94 312.35,321.51 310.92,321.51 310.92,319.44 312.35,319.44" fill="#d62728"/>
<polygon points="333.41,318.01 335.48,318.01 335.48,319.44 336.91,319.44 336.91,321.51 335.48,321.51 335.48,322.94 333.41,322.94 333.41,321.51 331.98,321.51 331.98,319.44 333.41,319.44" fill="#d62728"/>
<polygon points="354.47,318.01 356.53,318.01 356.53,319.44 357.96,319.44 357.96,321.51 356.53,321.51 356.53,322.94 354.47,322.94 354.47,321.51 353.04,321.51 353.04,319.44 354.47,319.44" fill="#d62728"/>
</g>
<g clip-path="url(#cc)">
<path d="M166 331.08L187.06 331.42L208.11 332.79L229.17 332.79L250.22 333.13L271.28 333.47L292.33 333.13L313.39 332.45L334.44 333.13L355.5 332.11" stroke="#9467bd" stroke-width="1.1" fill="none" stroke-linejoin="round"/>
<polygon points="163.76,328.84 168.24,328.84 166,333.32" fill="#9467bd"/>
<polygon points="184.82,329.18 189.3,329.18 187.06,333.66" fill="#9467bd"/>
<polygon points="205.87,330.55 210.35,330.55 208.11,335.03" fill="#9467bd"/>
<polygon points="226.93,330.55 231.41,330.55 229.17,335.03" fill="#9467bd"/>
<polygon points="247.98,330.89 252.46,330.89 250.22,335.37" fill="#9467bd"/>
<polygon points="269.04,331.23 273.52,331.23 271.28,335.71" fill="#9467bd"/>
<polygon points="290.09,330.89 294.57,330.89 292.33,335.37" fill="#9467bd"/>
<polygon points="311.15,330.21 315.63,330.21 313.39,334.69" fill="#9467bd"/>
<polygon points="332.2,330.89 336.68,330.89 334.44,335.37" fill="#9467bd"/>
<polygon points="353.26,329.87 357.74,329.87 355.5,334.35" fill="#9467bd"/>
</g>
<g clip-path="url(#cc)">
<path d="M166 358.1L187.06 357.41L208.11 357.41L229.17 357.07L250.22 356.39L271.28 356.05L292.33 356.05L313.39 356.73L334.44 356.05L355.5 356.05" stroke="#8c564b" stroke-width="1.1" fill="none" stroke-linejoin="round"/>
<circle cx="166" cy="358.1" r="2.3" fill="#8c564b"/>
<circle cx="187.06" cy="357.41" r="2.3" fill="#8c564b"/>
<circle cx="208.11" cy="357.41" r="2.3" fill="#8c564b"/>
<circle cx="229.17" cy="357.07" r="2.3" fill="#8c564b"/>
<circle cx="250.22" cy="356.39" r="2.3" fill="#8c564b"/>
<circle cx="271.28" cy="356.05" r="2.3" fill="#8c564b"/>
<circle cx="292.33" cy="356.05" r="2.3" fill="#8c564b"/>
<circle cx="313.39" cy="356.73" r="2.3" fill="#8c564b"/>
<circle cx="334.44" cy="356.05" r="2.3" fill="#8c564b"/>
<circle cx="355.5" cy="356.05" r="2.3" fill="#8c564b"/>
</g>
<g clip-path="url(#cc)">
<path d="M166 378.62L187.06 377.25L208.11 376.22L229.17 375.88L250.22 375.54L271.28 373.49L292.33 372.8L313.39 371.78L334.44 371.09L355.5 369.73" stroke="#e377c2" stroke-width="1.1" fill="none" stroke-linejoin="round"/>
<polygon points="164.15,380.47 167.85,380.47 166,376.77" fill="#e377c2"/>
<polygon points="185.21,379.1 188.9,379.1 187.06,375.4" fill="#e377c2"/>
<polygon points="206.26,378.07 209.96,378.07 208.11,374.38" fill="#e377c2"/>
<polygon points="227.32,377.73 231.01,377.73 229.17,374.03" fill="#e377c2"/>
<polygon points="248.37,377.39 252.07,377.39 250.22,373.69" fill="#e377c2"/>
<polygon points="269.43,375.34 273.13,375.34 271.28,371.64" fill="#e377c2"/>
<polygon points="290.49,374.65 294.18,374.65 292.33,370.96" fill="#e377c2"/>
<polygon points="311.54,373.63 315.24,373.63 313.39,369.93" fill="#e377c2"/>
<polygon points="332.6,372.94 336.29,372.94 334.44,369.25" fill="#e377c2"/>
<polygon points="353.65,371.57 357.35,371.57 355.5,367.88" fill="#e377c2"/>
</g>
<g clip-path="url(#cc)">
<path d="M166 385.12L187.06 383.75L208.11 384.09L229.17 383.41L250.22 384.43L271.28 384.43L292.33 383.06L313.39 384.09L334.44 384.09L355.5 382.72" stroke="#7f7f7f" stroke-width="1.1" fill="none" stroke-linejoin="round"/>
<path d="M163.76 382.88L168.24 387.36M163.76 387.36L168.24 382.88" stroke="#7f7f7f" stroke-width="0.9" fill="none"/>
<path d="M184.82 381.51L189.3 385.99M184.82 385.99L189.3 381.51" stroke="#7f7f7f" stroke-width="0.9" fill="none"/>
<path d="M205.87 381.85L210.35 386.33M205.87 386.33L210.35 381.85" stroke="#7f7f7f" stroke-width="0.9" fill="none"/>
<path d="M226.93 381.17L231.41 385.65M226.93 385.65L231.41 381.17" stroke="#7f7f7f" stroke-width="0.9" fill="none"/>
<path d="M247.98 382.19L252.46 386.67M247.98 386.67L252.46 382.19" stroke="#7f7f7f" stroke-width="0.9" fill="none"/>
<path d="M269.04 382.19L273.52 386.67M269.04 386.67L273.52 382.19" stroke="#7f7f7f" stroke-width="0.9" fill="none"/>
<path d="M290.09 380.82L294.57 385.3M290.09 385.3L294.57 380.82" stroke="#7f7f7f" stroke-width="0.9" fill="none"/>
<path d="M311.15 381.85L315.63 386.33M311.15 386.33L315.63 381.85" stroke="#7f7f7f" stroke-width="0.9" fill="none"/>
<path d="M332.2 381.85L336.68 386.33M332.2 386.33L336.68 381.85" stroke="#7f7f7f" stroke-width="0.9" fill="none"/>
<path d="M353.26 380.48L357.74 384.96M353.26 384.96L357.74 380.48" stroke="#7f7f7f" stroke-width="0.9" fill="none"/>
</g>
<g clip-path="url(#cc)">
<path d="M166 391.27L187.06 389.9L208.11 391.27L229.17 389.22L250.22 389.22L271.28 389.22L292.33 389.9L313.39 390.25L334.44 390.93L355.5 390.93" stroke="#bcbd22" stroke-width="1.1" fill="none" stroke-linejoin="round"/>
<circle cx="166" cy="391.27" r="2.3" fill="#bcbd22"/>
<circle cx="187.06" cy="389.9" r="2.3" fill="#bcbd22"/>
<circle cx="208.11" cy="391.27" r="2.3" fill="#bcbd22"/>
<circle cx="229.17" cy="389.22" r="2.3" fill="#bcbd22"/>
<circle cx="250.22" cy="389.22" r="2.3" fill="#bcbd22"/>
<circle cx="271.28" cy="389.22" r="2.3" fill="#bcbd22"/>
<circle cx="292.33" cy="389.9" r="2.3" fill="#bcbd22"/>
<circle cx="313.39" cy="390.25" r="2.3" fill="#bcbd22"/>
<circle cx="334.44" cy="390.93" r="2.3" fill="#bcbd22"/>
<circle cx="355.5" cy="390.93" r="2.3" fill="#bcbd22"/>
</g>
<g clip-path="url(#cc)">
<path d="M166 366.31L187.06 367.33L208.11 367.67L229.17 367.67L250.22 367.33L271.28 366.65L292.33 368.02L313.39 367.67L334.44 367.67L355.5 366.65" stroke="#17becf" stroke-width="1.1" fill="none" stroke-linejoin="round"/>
<path d="M166 366.31L166 368.55M166 366.31L164.06 365.19M166 366.31L167.94 365.19" stroke="#17becf" stroke-width="0.9" fill="none"/>
<path d="M187.06 367.33L187.06 369.57M187.06 367.33L185.12 366.21M187.06 367.33L189 366.21" stroke="#17becf" stroke-width="0.9" fill="none"/>
<path d="M208.11 367.67L208.11 369.91M208.11 367.67L206.17 366.55M208.11 367.67L210.05 366.55" stroke="#17becf" stroke-width="0.9" fill="none"/>
<path d="M229.17 367.67L229.17 369.91M229.17 367.67L227.23 366.55M229.17 367.67L231.11 366.55" stroke="#17becf" stroke-width="0.9" fill="none"/>
<path d="M250.22 367.33L250.22 369.57M250.22 367.33L248.28 366.21M250.22 367.33L252.16 366.21" stroke="#17becf" stroke-width="0.9" fill="none"/>
<path d="M271.28 366.65L271.28 368.89M271.28 366.65L269.34 365.53M271.28 366.65L273.22 365.53" stroke="#17becf" stroke-width="0.9" fill="none"/>
<path d="M292.33 368.02L292.33 370.26M292.33 368.02L290.39 366.9M292.33 368.02L294.27 366.9" stroke="#17becf" stroke-width="0.9" fill="none"/>
<path d="M313.39 367.67L313.39 369.91M313.39 367.67L311.45 366.55M313.39 367.67L315.33 366.55" stroke="#17becf" stroke-width="0.9" fill="none"/>
<path d="M334.44 367.67L334.44 369.91M334.44 367.67L332.5 366.55M334.44 367.67L336.38 366.55" stroke="#17becf" stroke-width="0.9" fill="none"/>
<path d="M355.5 366.65L355.5 368.89M355.5 366.65L353.56 365.53M355.5 366.65L357.44 365.53" stroke="#17becf" stroke-width="0.9" fill="none"/>
</g>
<g clip-path="url(#cc)">
<path d="M166 418.29L187.06 419.66L208.11 420.34L229.17 421.03L250.22 421.37L271.28 422.39L292.33 422.05L313.39 422.05L334.44 423.42L355.5 423.76" stroke="#1f77b4" stroke-width="1.1" fill="none" stroke-linejoin="round"/>
<path d="M166 418.29L166 416.05M166 418.29L167.94 419.41M166 418.29L164.06 419.41" stroke="#1f77b4" stroke-width="0.9" fill="none"/>
<path d="M187.06 419.66L187.06 417.42M187.06 419.66L189 420.78M187.06 419.66L185.12 420.78" stroke="#1f77b4" stroke-width="0.9" fill="none"/>
<path d="M208.11 420.34L208.11 418.1M208.11 420.34L210.05 421.46M208.11 420.34L206.17 421.46" stroke="#1f77b4" stroke-width="0.9" fill="none"/>
<path d="M229.17 421.03L229.17 418.79M229.17 421.03L231.11 422.15M229.17 421.03L227.23 422.15" stroke="#1f77b4" stroke-width="0.9" fill="none"/>
<path d="M250.22 421.37L250.22 419.13M250.22 421.37L252.16 422.49M250.22 421.37L248.28 422.49" stroke="#1f77b4" stroke-width="0.9" fill="none"/>
<path d="M271.28 422.39L271.28 420.15M271.28 422.39L273.22 423.51M271.28 422.39L269.34 423.51" stroke="#1f77b4" stroke-width="0.9" fill="none"/>
<path d="M292.33 422.05L292.33 419.81M292.33 422.05L294.27 423.17M292.33 422.05L290.39 423.17" stroke="#1f77b4" stroke-width="0.9" fill="none"/>
<path d="M313.39 422.05L313.39 419.81M313.39 422.05L315.33 423.17M313.39 422.05L311.45 423.17" stroke="#1f77b4" stroke-width="0.9" fill="none"/>
<path d="M334.44 423.42L334.44 421.18M334.44 423.42L336.38 424.54M334.44 423.42L332.5 424.54" stroke="#1f77b4" stroke-width="0.9" fill="none"/>
<path d="M355.5 423.76L355.5 421.52M355.5 423.76L357.44 424.88M355.5 423.76L353.56 424.88" stroke="#1f77b4" stroke-width="0.9" fill="none"/>
</g>
<g clip-path="url(#cc)">
<path d="M166 429.92L187.06 433.68L208.11 434.36L229.17 434.36L250.22 435.05L271.28 435.39L292.33 435.73L313.39 435.73L334.44 436.76L355.5 436.76" stroke="#ff7f0e" stroke-width="1.1" fill="none" stroke-linejoin="round"/>
<path d="M166 429.92L163.76 429.92M166 429.92L167.12 427.98M166 429.92L167.12 431.86" stroke="#ff7f0e" stroke-width="0.9" fill="none"/>
<path d="M187.06 433.68L184.82 433.68M187.06 433.68L188.18 431.74M187.06 433.68L188.18 435.62" stroke="#ff7f0e" stroke-width="0.9" fill="none"/>
<path d="M208.11 434.36L205.87 434.36M208.11 434.36L209.23 432.42M208.11 434.36L209.23 436.3" stroke="#ff7f0e" stroke-width="0.9" fill="none"/>
<path d="M229.17 434.36L226.93 434.36M229.17 434.36L230.29 432.42M229.17 434.36L230.29 436.3" stroke="#ff7f0e" stroke-width="0.9" fill="none"/>
<path d="M250.22 435.05L247.98 435.05M250.22 435.05L251.34 433.11M250.22 435.05L251.34 436.99" stroke="#ff7f0e" stroke-width="0.9" fill="none"/>
<path d="M271.28 435.39L269.04 435.39M271.28 435.39L272.4 433.45M271.28 435.39L272.4 437.33" stroke="#ff7f0e" stroke-width="0.9" fill="none"/>
<path d="M292.33 435.73L290.09 435.73M292.33 435.73L293.45 433.79M292.33 435.73L293.45 437.67" stroke="#ff7f0e" stroke-width="0.9" fill="none"/>
<path d="M313.39 435.73L311.15 435.73M313.39 435.73L314.51 433.79M313.39 435.73L314.51 437.67" stroke="#ff7f0e" stroke-width="0.9" fill="none"/>
<path d="M334.44 436.76L332.2 436.76M334.44 436.76L335.56 434.82M334.44 436.76L335.56 438.7" stroke="#ff7f0e" stroke-width="0.9" fill="none"/>
<path d="M355.5 436.76L353.26 436.76M355.5 436.76L356.62 434.82M355.5 436.76L356.62 438.7" stroke="#ff7f0e" stroke-width="0.9" fill="none"/>
</g>
<rect x="166" y="287.4" width="189.5" height="157.0" fill="none" stroke="#6c6c6c" stroke-width="0.85"/>
<line x1="163.5" y1="420" x2="166" y2="420" stroke="#6c6c6c" stroke-width="0.8"/>
<text x="162" y="422.9" font-size="5.8" text-anchor="end" font-family="'DejaVu Sans', 'Liberation Sans', sans-serif" fill="#262626" stroke="#262626" stroke-width="0.14">0.5</text>
<line x1="163.5" y1="385.8" x2="166" y2="385.8" stroke="#6c6c6c" stroke-width="0.8"/>
<text x="162" y="388.7" font-size="5.8" text-anchor="end" font-family="'DejaVu Sans', 'Liberation Sans', sans-serif" fill="#262626" stroke="#262626" stroke-width="0.14">0.6</text>
<line x1="163.5" y1="351.6" x2="166" y2="351.6" stroke="#6c6c6c" stroke-width="0.8"/>
<text x="162" y="354.5" font-size="5.8" text-anchor="end" font-family="'DejaVu Sans', 'Liberation Sans', sans-serif" fill="#262626" stroke="#262626" stroke-width="0.14">0.7</text>
<line x1="163.5" y1="317.4" x2="166" y2="317.4" stroke="#6c6c6c" stroke-width="0.8"/>
<text x="162" y="320.3" font-size="5.8" text-anchor="end" font-family="'DejaVu Sans', 'Liberation Sans', sans-serif" fill="#262626" stroke="#262626" stroke-width="0.14">0.8</text>
<line x1="166" y1="444.4" x2="166" y2="446.9" stroke="#6c6c6c" stroke-width="0.8"/>
<text x="166" y="452.9" font-size="5.8" text-anchor="middle" font-family="'DejaVu Sans', 'Liberation Sans', sans-serif" fill="#262626" stroke="#262626" stroke-width="0.14">100</text>
<line x1="187.06" y1="444.4" x2="187.06" y2="446.9" stroke="#6c6c6c" stroke-width="0.8"/>
<text x="187.06" y="452.9" font-size="5.8" text-anchor="middle" font-family="'DejaVu Sans', 'Liberation Sans', sans-serif" fill="#262626" stroke="#262626" stroke-width="0.14">200</text>
<line x1="208.11" y1="444.4" x2="208.11" y2="446.9" stroke="#6c6c6c" stroke-width="0.8"/>
<text x="208.11" y="452.9" font-size="5.8" text-anchor="middle" font-family="'DejaVu Sans', 'Liberation Sans', sans-serif" fill="#262626" stroke="#262626" stroke-width="0.14">300</text>
<line x1="229.17" y1="444.4" x2="229.17" y2="446.9" stroke="#6c6c6c" stroke-width="0.8"/>
<text x="229.17" y="452.9" font-size="5.8" text-anchor="middle" font-family="'DejaVu Sans', 'Liberation Sans', sans-serif" fill="#262626" stroke="#262626" stroke-width="0.14">400</text>
<line x1="250.22" y1="444.4" x2="250.22" y2="446.9" stroke="#6c6c6c" stroke-width="0.8"/>
<text x="250.22" y="452.9" font-size="5.8" text-anchor="middle" font-family="'DejaVu Sans', 'Liberation Sans', sans-serif" fill="#262626" stroke="#262626" stroke-width="0.14">500</text>
<line x1="271.28" y1="444.4" x2="271.28" y2="446.9" stroke="#6c6c6c" stroke-width="0.8"/>
<text x="271.28" y="452.9" font-size="5.8" text-anchor="middle" font-family="'DejaVu Sans', 'Liberation Sans', sans-serif" fill="#262626" stroke="#262626" stroke-width="0.14">600</text>
<line x1="292.33" y1="444.4" x2="292.33" y2="446.9" stroke="#6c6c6c" stroke-width="0.8"/>
<text x="292.33" y="452.9" font-size="5.8" text-anchor="middle" font-family="'DejaVu Sans', 'Liberation Sans', sans-serif" fill="#262626" stroke="#262626" stroke-width="0.14">700</text>
<line x1="313.39" y1="444.4" x2="313.39" y2="446.9" stroke="#6c6c6c" stroke-width="0.8"/>
<text x="313.39" y="452.9" font-size="5.8" text-anchor="middle" font-family="'DejaVu Sans', 'Liberation Sans', sans-serif" fill="#262626" stroke="#262626" stroke-width="0.14">800</text>
<line x1="334.44" y1="444.4" x2="334.44" y2="446.9" stroke="#6c6c6c" stroke-width="0.8"/>
<text x="334.44" y="452.9" font-size="5.8" text-anchor="middle" font-family="'DejaVu Sans', 'Liberation Sans', sans-serif" fill="#262626" stroke="#262626" stroke-width="0.14">900</text>
<line x1="355.5" y1="444.4" x2="355.5" y2="446.9" stroke="#6c6c6c" stroke-width="0.8"/>
<text x="355.5" y="452.9" font-size="5.8" text-anchor="middle" font-family="'DejaVu Sans', 'Liberation Sans', sans-serif" fill="#262626" stroke="#262626" stroke-width="0.14">1000</text>
<text x="261.3" y="461.2" font-size="5.8" text-anchor="middle" font-family="'DejaVu Sans', 'Liberation Sans', sans-serif" fill="#262626" stroke="#262626" stroke-width="0.14">The number of retrieved samples</text>
<text x="149.2" y="366.3" font-size="5.8" text-anchor="middle" font-family="'DejaVu Sans', 'Liberation Sans', sans-serif" fill="#262626" stroke="#262626" stroke-width="0.14" transform="rotate(-90 149.2 366.3)">precision</text>
<text x="260.2" y="283.1" font-size="6.9" text-anchor="middle" font-family="'DejaVu Sans', 'Liberation Sans', sans-serif" fill="#262626" stroke="#262626" stroke-width="0.14">Precision curve w.r.t top-N @48 bits</text>
<rect x="365.1" y="287.8" width="45.3" height="104.4" rx="1.5" fill="#fff" stroke="#e2e2e2" stroke-width="0.9"/>
<line x1="366.7" y1="291.8" x2="379.1" y2="291.8" stroke="#1f77b4" stroke-width="1.0"/>
<polygon points="373,289.4 375.4,291.8 373,294.2 370.6,291.8" fill="#1f77b4"/>
<text x="383.8" y="293.85" font-size="5.65" text-anchor="start" font-family="'DejaVu Sans', 'Liberation Sans', sans-serif" fill="#262626" stroke="#262626" stroke-width="0.26">Ours</text>
<line x1="366.7" y1="300.49" x2="379.1" y2="300.49" stroke="#ff7f0e" stroke-width="1.0"/>
<polygon points="373,298.14 374.82,300.49 373,302.84 371.18,300.49" fill="#ff7f0e"/>
<text x="383.8" y="302.54" font-size="5.65" text-anchor="start" font-family="'DejaVu Sans', 'Liberation Sans', sans-serif" fill="#262626" stroke="#262626" stroke-width="0.26">MFLH</text>
<line x1="366.7" y1="309.18" x2="379.1" y2="309.18" stroke="#2ca02c" stroke-width="1.0"/>
<rect x="370.98" y="307.16" width="4.03" height="4.03" fill="#2ca02c"/>
<text x="383.8" y="311.23" font-size="5.65" text-anchor="start" font-family="'DejaVu Sans', 'Liberation Sans', sans-serif" fill="#262626" stroke="#262626" stroke-width="0.26">LRH</text>
<line x1="366.7" y1="317.87" x2="379.1" y2="317.87" stroke="#d62728" stroke-width="1.0"/>
<polygon points="372.11,315.76 373.89,315.76 373.89,316.98 375.11,316.98 375.11,318.76 373.89,318.76 373.89,319.98 372.11,319.98 372.11,318.76 370.89,318.76 370.89,316.98 372.11,316.98" fill="#d62728"/>
<text x="383.8" y="319.92" font-size="5.65" text-anchor="start" font-family="'DejaVu Sans', 'Liberation Sans', sans-serif" fill="#262626" stroke="#262626" stroke-width="0.26">DPH</text>
<line x1="366.7" y1="326.56" x2="379.1" y2="326.56" stroke="#9467bd" stroke-width="1.0"/>
<polygon points="371.08,324.64 374.92,324.64 373,328.48" fill="#9467bd"/>
<text x="383.8" y="328.61" font-size="5.65" text-anchor="start" font-family="'DejaVu Sans', 'Liberation Sans', sans-serif" fill="#262626" stroke="#262626" stroke-width="0.26">HashNet</text>
<line x1="366.7" y1="335.25" x2="379.1" y2="335.25" stroke="#8c564b" stroke-width="1.0"/>
<circle cx="373" cy="335.25" r="1.97" fill="#8c564b"/>
<text x="383.8" y="337.3" font-size="5.65" text-anchor="start" font-family="'DejaVu Sans', 'Liberation Sans', sans-serif" fill="#262626" stroke="#262626" stroke-width="0.26">DHN</text>
<line x1="366.7" y1="343.94" x2="379.1" y2="343.94" stroke="#e377c2" stroke-width="1.0"/>
<polygon points="371.42,345.52 374.58,345.52 373,342.36" fill="#e377c2"/>
<text x="383.8" y="345.99" font-size="5.65" text-anchor="start" font-family="'DejaVu Sans', 'Liberation Sans', sans-serif" fill="#262626" stroke="#262626" stroke-width="0.26">DNNH</text>
<line x1="366.7" y1="352.63" x2="379.1" y2="352.63" stroke="#7f7f7f" stroke-width="1.0"/>
<path d="M371.08 350.71L374.92 354.55M371.08 354.55L374.92 350.71" stroke="#7f7f7f" stroke-width="0.9" fill="none"/>
<text x="383.8" y="354.68" font-size="5.65" text-anchor="start" font-family="'DejaVu Sans', 'Liberation Sans', sans-serif" fill="#262626" stroke="#262626" stroke-width="0.26">CNNH</text>
<line x1="366.7" y1="361.32" x2="379.1" y2="361.32" stroke="#bcbd22" stroke-width="1.0"/>
<circle cx="373" cy="361.32" r="1.97" fill="#bcbd22"/>
<text x="383.8" y="363.37" font-size="5.65" text-anchor="start" font-family="'DejaVu Sans', 'Liberation Sans', sans-serif" fill="#262626" stroke="#262626" stroke-width="0.26">KSH</text>
<line x1="366.7" y1="370.01" x2="379.1" y2="370.01" stroke="#17becf" stroke-width="1.0"/>
<path d="M373 370.01L373 371.93M373 370.01L371.34 369.05M373 370.01L374.66 369.05" stroke="#17becf" stroke-width="0.9" fill="none"/>
<text x="383.8" y="372.06" font-size="5.65" text-anchor="start" font-family="'DejaVu Sans', 'Liberation Sans', sans-serif" fill="#262626" stroke="#262626" stroke-width="0.26">SDH</text>
<line x1="366.7" y1="378.7" x2="379.1" y2="378.7" stroke="#1f77b4" stroke-width="1.0"/>
<path d="M373 378.7L373 376.78M373 378.7L374.66 379.66M373 378.7L371.34 379.66" stroke="#1f77b4" stroke-width="0.9" fill="none"/>
<text x="383.8" y="380.75" font-size="5.65" text-anchor="start" font-family="'DejaVu Sans', 'Liberation Sans', sans-serif" fill="#262626" stroke="#262626" stroke-width="0.26">ITQ</text>
<line x1="366.7" y1="387.39" x2="379.1" y2="387.39" stroke="#ff7f0e" stroke-width="1.0"/>
<path d="M373 387.39L371.08 387.39M373 387.39L373.96 385.73M373 387.39L373.96 389.05" stroke="#ff7f0e" stroke-width="0.9" fill="none"/>
<text x="383.8" y="389.44" font-size="5.65" text-anchor="start" font-family="'DejaVu Sans', 'Liberation Sans', sans-serif" fill="#262626" stroke="#262626" stroke-width="0.26">SH</text>
<text x="136.7" y="252.8" font-size="12" text-anchor="middle" font-family="'Liberation Serif', 'DejaVu Serif', serif" fill="#111" font-weight="bold"><tspan font-weight="normal">(</tspan>a<tspan font-weight="normal">)</tspan></text>
<text x="415.4" y="252.9" font-size="12" text-anchor="middle" font-family="'Liberation Serif', 'DejaVu Serif', serif" fill="#111" font-weight="bold"><tspan font-weight="normal">(</tspan>b<tspan font-weight="normal">)</tspan></text>
<text x="273.4" y="484.3" font-size="12" text-anchor="middle" font-family="'Liberation Serif', 'DejaVu Serif', serif" fill="#111" font-weight="bold"><tspan font-weight="normal">(</tspan>c<tspan font-weight="normal">)</tspan></text>
</svg>
</body></html>
